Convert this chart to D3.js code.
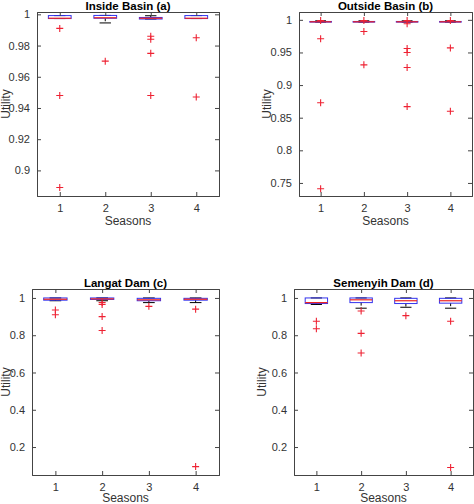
<!DOCTYPE html><html><head><meta charset="utf-8"><script src="https://cdn.jsdelivr.net/npm/d3@7"></script>
<style>body{margin:0;background:#fff}text{font-family:Arial,"Liberation Sans",sans-serif}</style></head><body><svg id="c" width="474" height="504"></svg>
<script>
const seasons=[1,2,3,4];
// [q1, median, q3, whiskerLow, whiskerHigh]
const boxesA=[[0.9973,0.9975,0.9992,0.9973,0.9992],[0.9975,0.9978,0.9993,0.9945,0.9993],[0.9970,0.9975,0.9980,0.9970,0.9991],[0.9973,0.9975,0.9992,0.9973,0.9992]];
const outA=[[0.991,0.948,0.889],[0.970],[0.986,0.984,0.975,0.948],[0.985,0.947]];
const boxesB=[[0.9965,0.997,0.9975,0.9965,0.9985],[0.9965,0.997,0.9975,0.9965,0.9985],[0.9965,0.997,0.9975,0.9965,0.9985],[0.9965,0.997,0.9975,0.9965,0.9985]];
const outB=[[0.999,0.971,0.873,0.741],[0.999,0.982,0.931],[0.999,0.994,0.956,0.950,0.927,0.867],[0.999,0.957,0.860]];
const boxesC=[[0.988,0.993,1.0,0.985,1.0],[0.992,0.995,1.0,0.985,1.0],[0.985,0.99,0.998,0.975,1.0],[0.988,0.993,0.998,0.975,1.0]];
const outC=[[0.935,0.91],[0.975,0.965,0.90,0.825],[0.955],[0.94,0.095]];
const boxesD=[[0.97,0.975,1.0,0.965,1.0],[0.975,0.99,1.0,0.945,1.0],[0.97,0.985,0.998,0.95,1.0],[0.972,0.985,0.998,0.945,1.0]];
const outD=[[0.875,0.835],[0.93,0.81,0.705],[0.905],[0.875,0.09]];
const titles=["Inside Basin (a)","Outside Basin (b)","Langat Dam (c)","Semenyih Dam (d)"];
const yTicksA=[0.9,0.92,0.94,0.96,0.98,1],yTicksB=[0.75,0.8,0.85,0.9,0.95,1],yTicksCD=[0.2,0.4,0.6,0.8,1];
const panels=[
 {t:titles[0],b:boxesA,o:outA,x0:37,x1:219,y0:12,y1:196,d:[0.8836,1.0015],ticks:yTicksA},
 {t:titles[1],b:boxesB,o:outB,x0:299,x1:472,y0:12,y1:196,d:[0.730,1.012],ticks:yTicksB},
 {t:titles[2],b:boxesC,o:outC,x0:32,x1:219,y0:289,y1:475,d:[0.05,1.048],ticks:yTicksCD},
 {t:titles[3],b:boxesD,o:outD,x0:294,x1:473,y0:289,y1:475,d:[0.05,1.048],ticks:yTicksCD}];
const svg=d3.select("#c");
panels.forEach(p=>{
 const g=svg.append("g");
 const x=d3.scaleLinear().domain([0.5,4.5]).range([p.x0,p.x1]);
 const y=d3.scaleLinear().domain(p.d).range([p.y1,p.y0]);
 const bw=(x(1.25)-x(1));
 seasons.forEach((s,i)=>{
  const [q1,md,q3,wl,wh]=p.b[i];const cx=x(s);
  g.append("line").attr("x1",cx).attr("x2",cx).attr("y1",y(q3)).attr("y2",y(wh)).attr("stroke","#000").attr("stroke-dasharray","3,2");
  g.append("line").attr("x1",cx).attr("x2",cx).attr("y1",y(q1)).attr("y2",y(wl)).attr("stroke","#000").attr("stroke-dasharray","3,2");
  [wl,wh].forEach(v=>g.append("line").attr("x1",cx-bw/2).attr("x2",cx+bw/2).attr("y1",y(v)).attr("y2",y(v)).attr("stroke","#000"));
  g.append("rect").attr("x",cx-bw).attr("width",2*bw).attr("y",y(q3)).attr("height",Math.max(0.5,y(q1)-y(q3))).attr("fill","none").attr("stroke","#3333ee");
  g.append("line").attr("x1",cx-bw).attr("x2",cx+bw).attr("y1",y(md)).attr("y2",y(md)).attr("stroke","#ee2222").attr("stroke-width",1.2);
  p.o[i].forEach(v=>{const yy=y(v);
   g.append("path").attr("d",`M${cx-3.5},${yy}H${cx+3.5}M${cx},${yy-3.5}V${yy+3.5}`).attr("stroke","#ee2233").attr("stroke-width",1.1);});
 });
 g.append("g").attr("transform",`translate(0,${p.y1})`).call(d3.axisBottom(x).tickValues(seasons).tickSize(-4).tickPadding(8).tickFormat(d3.format("d")));
 g.append("g").attr("transform",`translate(0,${p.y0})`).call(d3.axisTop(x).tickValues(seasons).tickSize(-4).tickFormat(""));
 g.append("g").attr("transform",`translate(${p.x0},0)`).call(d3.axisLeft(y).tickValues(p.ticks).tickSize(-4).tickPadding(7).tickFormat(d=>String(d)));
 g.append("g").attr("transform",`translate(${p.x1},0)`).call(d3.axisRight(y).tickValues(p.ticks).tickSize(-4).tickFormat(""));
 g.selectAll(".domain").attr("stroke","#444");
 g.selectAll(".tick line").attr("stroke","#444");
 g.selectAll(".tick text").attr("font-size",11).attr("fill","#333");
 g.append("text").attr("x",(p.x0+p.x1)/2).attr("y",p.y0-2).attr("text-anchor","middle").attr("font-weight","bold").attr("font-size",11.5).text(p.t);
 g.append("text").attr("x",(p.x0+p.x1)/2).attr("y",Math.min(p.y1+29,502)).attr("text-anchor","middle").attr("font-size",12).attr("fill","#333").text("Seasons");
 g.append("text").attr("transform",`translate(${Math.max(p.x0-28,10)},${(p.y0+p.y1)/2}) rotate(-90)`).attr("text-anchor","middle").attr("font-size",12).attr("fill","#333").text("Utility");
});
</script></body></html>
